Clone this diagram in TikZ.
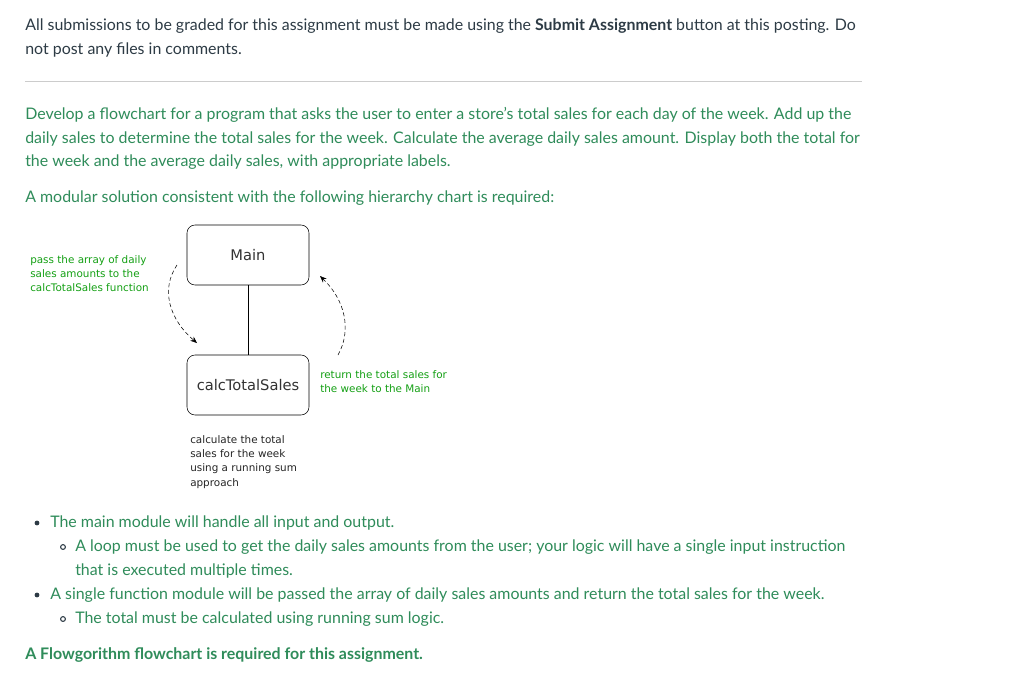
\documentclass[tikz,border=0pt]{standalone}
\usepackage{fontspec}
\setmainfont{Lato}
\newfontfamily\dgfont{DejaVu Sans}
\usetikzlibrary{arrows.meta}
\definecolor{txt}{RGB}{45,59,69}
\definecolor{grn}{RGB}{47,140,90}
\definecolor{lbl}{RGB}{20,160,20}
\begin{document}
\begin{tikzpicture}[x=0.75pt,y=-0.75pt,
  ln/.style={anchor=base west,inner sep=0,font=\fontsize{11.95pt}{14pt}\selectfont},
  dl/.style={anchor=north west,inner sep=0,align=left,font=\dgfont\fontsize{7.8pt}{10.8pt}\selectfont},
  box/.style={draw,rounded corners=6pt,minimum width=91.5pt,minimum height=45pt,inner sep=0,font=\dgfont\fontsize{11pt}{13pt}\selectfont,text=black!80},
  darr/.style={densely dashed,-{Stealth[length=5pt,width=4pt]}}]
\useasboundingbox[fill=white] (0,0) rectangle (1027,675);
\node[ln,text=txt] (l1) at (25,30) {All submissions to be graded for this assignment must be made using the \textbf{Submit Assignment} button at this posting. Do};
\node[ln,text=txt] (l2) at (25,54) {not post any files in comments.};
\draw[black!20] (25,81) -- (862,81);
\node[ln,text=grn] (p1) at (25,119) {Develop a flowchart for a program that asks the user to enter a store's total sales for each day of the week. Add up the};
\node[ln,text=grn] (p2) at (25,143) {daily sales to determine the total sales for the week. Calculate the average daily sales amount. Display both the total for};
\node[ln,text=grn] (p3) at (25,166) {the week and the average daily sales, with appropriate labels.};
\node[ln,text=grn] (p4) at (25,202) {A modular solution consistent with the following hierarchy chart is required:};
\node[box] (main) at (248,255) {Main};
\node[box] (calc) at (248,385) {calcTotalSales};
\draw (main) -- (calc);
\node[dl,text=lbl] (tl) at (30,255) {pass the array of daily\\sales amounts to the\\calcTotalSales function};
\node[dl,text=lbl] (tr) at (320,370) {return the total sales for\\the week to the Main};
\node[dl,text=black!85] (tb) at (190,435) {calculate the total\\sales for the week\\using a running sum\\approach};
\coordinate (a1) at (177,265); \coordinate (a2) at (197,343);
\coordinate (b1) at (338,355); \coordinate (b2) at (320,276);
\draw[darr] (a1) .. controls (160,290) and (170,320) .. (a2);
\draw[darr] (b1) .. controls (352,330) and (345,300) .. (b2);
\fill[txt] (37,523) circle (2.4);
\node[ln,text=grn] (u1) at (50,527) {The main module will handle all input and output.};
\draw[txt,line width=0.8pt] (63,547) circle (2.4);
\node[ln,text=grn] (u2) at (75,551) {A loop must be used to get the daily sales amounts from the user; your logic will have a single input instruction};
\node[ln,text=grn] (u3) at (75,575) {that is executed multiple times.};
\fill[txt] (37,595) circle (2.4);
\node[ln,text=grn] (u4) at (50,599) {A single function module will be passed the array of daily sales amounts and return the total sales for the week.};
\draw[txt,line width=0.8pt] (63,619) circle (2.4);
\node[ln,text=grn] (u5) at (75,623) {The total must be calculated using running sum logic.};
\node[ln,text=grn] (f) at (25,659) {\textbf{A Flowgorithm flowchart is required for this assignment.}};
\end{tikzpicture}
\end{document}
